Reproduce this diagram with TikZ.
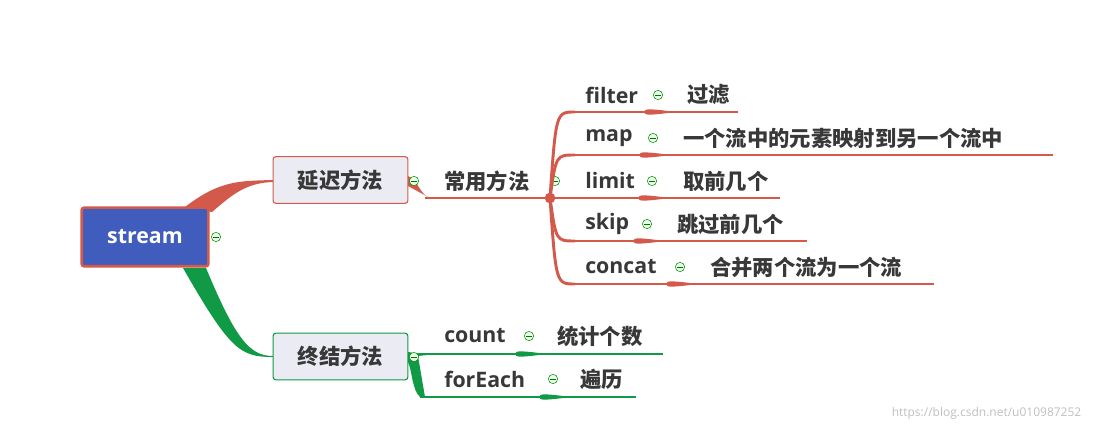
\documentclass[tikz,border=0pt]{standalone}
\usepackage{fontspec}
\setmainfont{Open Sans}
\newfontfamily\cjk{Noto Sans CJK SC}
\begin{document}
\begin{tikzpicture}[x=0.75pt,y=-0.75pt,
  txt/.style={font=\cjk\bfseries\fontsize{16}{18}\selectfont,text=black!78,inner sep=0pt,anchor=west},
  lat/.style={font=\bfseries\fontsize{16}{18}\selectfont,text=black!78,inner sep=0pt,anchor=west},
  box/.style={draw,rounded corners=2pt,fill=boxbg,minimum width=101pt,minimum height=35pt,txt,anchor=center},
  ul/.style={line width=1pt},
  tog/.style={circle,draw=green!55!black,fill=green!8,minimum size=7pt,inner sep=0pt,
     path picture={\draw[green!45!black,line width=0.6pt] ([xshift=-2pt]path picture bounding box.center)--([xshift=2pt]path picture bounding box.center);}}]
\definecolor{rd}{HTML}{D35A4A}\definecolor{gn}{HTML}{109A45}
\definecolor{boxbg}{HTML}{EBEBF3}\definecolor{bl}{HTML}{405CBC}
\useasboundingbox (0,0) rectangle (1093,431);
% main trunks
\fill[rd] (185,207) .. controls (220,180) and (240,181) .. (273,180) -- (273,182) .. controls (245,183) and (232,195) .. (212,212) -- cycle;
\fill[gn] (183,268) .. controls (230,350) and (240,357) .. (273,357) -- (273,356) .. controls (250,356) and (236,340) .. (206,268) -- cycle;
\node[box,draw=rd,line width=0.8pt] (yc) at (340.5,180) {延迟方法};
\node[box,draw=gn,line width=0.8pt] (zj) at (340.5,356.5) {终结方法};
\node[draw=rd,line width=2pt,fill=bl,rounded corners=2pt,minimum width=95pt,minimum height=44pt,
  font=\bfseries\fontsize{16}{18}\selectfont,text=white] (st) at (145,237) {stream};
\node[tog] (t0) at (216,237) {};
% 常用方法
\fill[rd] (408,176) .. controls (418,180) and (420,195) .. (430,198) -- (408,186) -- cycle;
\coordinate (hub) at (550,198);
\draw[rd,ul] (425,198) -- (hub);
\node[txt] (cy) at (444,181) {常用方法};
\node[tog] (t1) at (414,181) {};
\node[tog] (t2) at (555,181) {};
\fill[rd] (hub) circle (4pt);
% children
\foreach \n/\w/\y/\tx/\cx/\lx/\e/\lbl in {
  f/filter/95/585/658/687/738/过滤,
  m/map/138/585/653/683/1053/一个流中的元素映射到另一个流中,
  l/limit/181/585/652/683/780/取前几个,
  s/skip/224/585/647/677/807/跳过前几个,
  c/concat/267/585/680/710/934/合并两个流为一个流}{
  \pgfmathsetmacro\u{\y+17}
  \draw[rd,line width=2.2pt] (hub) .. controls (556,\u) and (556,\u) .. (575,\u);
  \draw[rd,ul] (570,\u) -- (\e,\u);
  \node[lat] (\n) at (\tx,\y) {\w};
  \node[tog] (t\n) at (\cx,\y) {};
  \node[txt] (leaf\n) at (\lx,\y) {\lbl};
  \fill[rd] (\cx-14,\u) .. controls (\cx-14,\u-4) and (\cx-6,\u-3) .. (\cx+18,\u) .. controls (\cx-6,\u+3) and (\cx-14,\u+4) .. cycle;
}
% 终结方法
\fill[gn] (408,352) .. controls (420,354) and (420,354) .. (436,354) -- (418,356) -- (425,397) -- (420,397) .. controls (412,390) and (412,370) .. (408,362) -- cycle;
\draw[gn,ul] (418,354) -- (663,354);
\draw[gn,ul] (420,397) .. controls (425,397) .. (430,397) -- (636,397);
\node[lat] (cnt) at (444,336) {count};
\node[tog] (tcn) at (529,336) {};
\node[txt] (lcn) at (557,336) {统计个数};
\node[lat] (fe) at (444,379) {forEach};
\node[tog] (tfe) at (553,379) {};
\node[txt] (lfe) at (580,379) {遍历};
\node[tog] (t3) at (414,357) {};
\foreach \cx/\u in {529/354,553/397}
  \fill[gn] (\cx-14,\u) .. controls (\cx-14,\u-4) and (\cx-6,\u-3) .. (\cx+18,\u) .. controls (\cx-6,\u+3) and (\cx-14,\u+4) .. cycle;
\node[font=\fontsize{9}{10}\selectfont,text=black!25,anchor=east] (wm) at (1086,413) {https://blog.csdn.net/u010987252};
\end{tikzpicture}
\end{document}
